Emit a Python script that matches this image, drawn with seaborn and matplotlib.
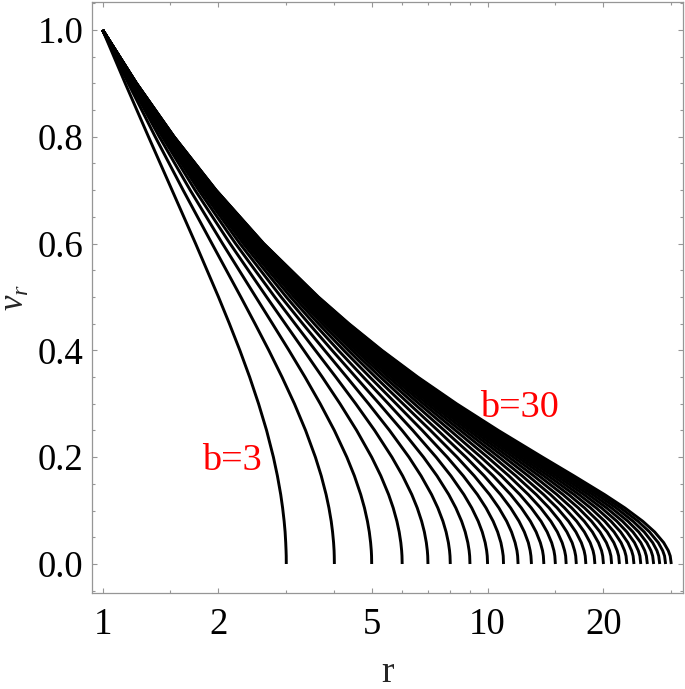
import matplotlib
matplotlib.use("Agg")
import matplotlib.pyplot as plt
import matplotlib.ticker as mticker
import pandas as pd
import seaborn as sns

# --- Data ---
# one curve per b; every curve starts at (r=1, v=1) and ends at (r=b, v=0)
B_VALUES = [3, 4, 5, 6, 7, 8, 9, 10, 11, 12, 13, 14, 15, 16, 17, 18, 19, 20,
            21, 22, 23, 24, 25, 26, 27, 28, 29, 30]
R_START = 1.0

# v_r levels at which the r position of each curve was read (top to bottom)
V_LEVELS = [1.0, 0.9, 0.8, 0.7, 0.6, 0.5, 0.45, 0.4, 0.35, 0.3, 0.25, 0.2,
            0.165, 0.13, 0.105, 0.08, 0.06, 0.04, 0.025, 0.015, 0.0]

# r where each curve (b = 3..30) crosses the given v_r level
R_V090 = [1.145, 1.166, 1.179, 1.188, 1.195, 1.199, 1.203, 1.206, 1.209, 1.211, 1.213, 1.214, 1.216, 1.217,
          1.218, 1.219, 1.22, 1.22, 1.221, 1.222, 1.222, 1.223, 1.223, 1.224, 1.224, 1.224, 1.225, 1.225]
R_V080 = [1.316, 1.37, 1.404, 1.429, 1.446, 1.46, 1.471, 1.479, 1.486, 1.493, 1.498, 1.502, 1.506, 1.509,
          1.512, 1.515, 1.518, 1.52, 1.522, 1.524, 1.525, 1.527, 1.528, 1.529, 1.531, 1.532, 1.533, 1.534]
R_V070 = [1.515, 1.619, 1.689, 1.739, 1.777, 1.806, 1.829, 1.848, 1.864, 1.878, 1.89, 1.9, 1.908, 1.916,
          1.923, 1.929, 1.935, 1.94, 1.944, 1.949, 1.952, 1.956, 1.959, 1.962, 1.965, 1.968, 1.97, 1.972]
R_V060 = [1.744, 1.923, 2.049, 2.143, 2.215, 2.273, 2.32, 2.358, 2.391, 2.419, 2.444, 2.465, 2.483, 2.5,
          2.515, 2.528, 2.54, 2.551, 2.561, 2.57, 2.578, 2.586, 2.593, 2.6, 2.606, 2.612, 2.617, 2.622]
R_V050 = [2.0, 2.286, 2.5, 2.667, 2.8, 2.909, 3.0, 3.077, 3.143, 3.2, 3.25, 3.294, 3.333, 3.368,
          3.4, 3.429, 3.455, 3.478, 3.5, 3.52, 3.538, 3.556, 3.571, 3.586, 3.6, 3.613, 3.625, 3.636]
R_V045 = [2.135, 2.488, 2.762, 2.981, 3.16, 3.309, 3.435, 3.543, 3.636, 3.718, 3.79, 3.854, 3.911, 3.963,
          4.009, 4.052, 4.09, 4.126, 4.158, 4.188, 4.216, 4.242, 4.266, 4.289, 4.31, 4.329, 4.348, 4.365]
R_V040 = [2.273, 2.703, 3.049, 3.333, 3.571, 3.774, 3.947, 4.098, 4.231, 4.348, 4.452, 4.545, 4.63, 4.706,
          4.775, 4.839, 4.897, 4.95, 5.0, 5.046, 5.088, 5.128, 5.165, 5.2, 5.233, 5.263, 5.292, 5.319]
R_V035 = [2.41, 2.925, 3.356, 3.721, 4.035, 4.307, 4.545, 4.756, 4.944, 5.112, 5.263, 5.4, 5.525, 5.639,
          5.743, 5.839, 5.928, 6.011, 6.087, 6.158, 6.225, 6.287, 6.345, 6.4, 6.452, 6.5, 6.546, 6.59]
R_V030 = [2.542, 3.15, 3.676, 4.138, 4.545, 4.908, 5.233, 5.525, 5.789, 6.03, 6.25, 6.452, 6.637, 6.809,
          6.967, 7.115, 7.252, 7.38, 7.5, 7.612, 7.718, 7.818, 7.911, 8.0, 8.084, 8.163, 8.239, 8.31]
R_V025 = [2.667, 3.368, 4.0, 4.571, 5.091, 5.565, 6.0, 6.4, 6.769, 7.111, 7.429, 7.724, 8.0, 8.258,
          8.5, 8.727, 8.941, 9.143, 9.333, 9.514, 9.684, 9.846, 10.0, 10.15, 10.29, 10.42, 10.55, 10.67]
R_V020 = [2.778, 3.571, 4.31, 5.0, 5.645, 6.25, 6.818, 7.353, 7.857, 8.333, 8.784, 9.211, 9.615, 10.0,
          10.37, 10.71, 11.05, 11.36, 11.67, 11.96, 12.23, 12.5, 12.76, 13.0, 13.24, 13.46, 13.68, 13.89]
R_V0165 = [2.845, 3.698, 4.509, 5.281, 6.017, 6.719, 7.39, 8.032, 8.646, 9.234, 9.799, 10.34, 10.86, 11.36,
           11.84, 12.3, 12.75, 13.18, 13.6, 14.0, 14.38, 14.76, 15.12, 15.47, 15.81, 16.14, 16.46, 16.76]
R_V013 = [2.902, 3.807, 4.683, 5.533, 6.356, 7.154, 7.928, 8.68, 9.41, 10.12, 10.81, 11.48, 12.13, 12.76,
          13.38, 13.98, 14.57, 15.14, 15.7, 16.24, 16.77, 17.28, 17.79, 18.28, 18.76, 19.23, 19.69, 20.13]
R_V0105 = [2.935, 3.872, 4.789, 5.687, 6.566, 7.427, 8.271, 9.097, 9.908, 10.7, 11.48, 12.24, 12.99, 13.73,
           14.45, 15.16, 15.85, 16.54, 17.21, 17.86, 18.51, 19.15, 19.77, 20.38, 20.98, 21.58, 22.16, 22.73]
R_V008 = [2.962, 3.925, 4.875, 5.814, 6.741, 7.657, 8.562, 9.455, 10.34, 11.21, 12.07, 12.92, 13.77, 14.6,
          15.42, 16.23, 17.04, 17.83, 18.62, 19.39, 20.16, 20.92, 21.67, 22.41, 23.15, 23.87, 24.59, 25.3]
R_V006 = [2.979, 3.957, 4.929, 5.894, 6.852, 7.803, 8.748, 9.686, 10.62, 11.54, 12.46, 13.37, 14.28, 15.18,
          16.07, 16.96, 17.84, 18.72, 19.59, 20.45, 21.31, 22.16, 23.01, 23.85, 24.69, 25.52, 26.34, 27.16]
R_V004 = [2.99, 3.981, 4.968, 5.952, 6.933, 7.911, 8.886, 9.858, 10.83, 11.79, 12.76, 13.71, 14.67, 15.62,
          16.58, 17.52, 18.47, 19.41, 20.35, 21.28, 22.22, 23.15, 24.08, 25.0, 25.92, 26.84, 27.76, 28.67]
R_V0025 = [2.996, 3.993, 4.988, 5.981, 6.974, 7.965, 8.955, 9.944, 10.93, 11.92, 12.9, 13.89, 14.87, 15.85,
           16.83, 17.81, 18.79, 19.77, 20.74, 21.71, 22.69, 23.66, 24.63, 25.6, 26.57, 27.54, 28.5, 29.47]
R_V0015 = [2.999, 3.997, 4.996, 5.993, 6.991, 7.987, 8.984, 9.98, 10.98, 11.97, 12.96, 13.96, 14.95, 15.95,
           16.94, 17.93, 18.92, 19.91, 20.91, 21.9, 22.89, 23.88, 24.87, 25.85, 26.84, 27.83, 28.82, 29.81]

X_MAJOR = [1, 2, 5, 10, 20]
X_MINOR = [1.5, 3, 4, 6, 7, 8, 9, 15, 30]
Y_MAJOR = [0.0, 0.2, 0.4, 0.6, 0.8, 1.0]

# annotations: (text, r, v_r at baseline)
LABELS = [("b=3", 2.164, 0.176), ("b=30", 12.07, 0.276)]


def build_frame():
    cols = [R_V090, R_V080, R_V070, R_V060, R_V050, R_V045, R_V040, R_V035,
            R_V030, R_V025, R_V020, R_V0165, R_V013, R_V0105, R_V008, R_V006,
            R_V004, R_V0025, R_V0015]
    rows = []
    for i, b in enumerate(B_VALUES):
        rs = [R_START] + [c[i] for c in cols] + [b]
        for r, v in zip(rs, V_LEVELS):
            rows.append({"b": b, "r": r, "v": v})
    return pd.DataFrame(rows)


def main():
    df = build_frame()

    sns.set_style("ticks")
    plt.rcParams["font.family"] = ["Liberation Serif", "DejaVu Serif"]
    plt.rcParams["mathtext.fontset"] = "custom"
    plt.rcParams["mathtext.it"] = "Liberation Serif:italic"
    plt.rcParams["mathtext.rm"] = "Liberation Serif"

    frame_gray = "#969696"

    fig = plt.figure(figsize=(6.85, 6.89), dpi=100)
    ax = fig.add_axes([92 / 685, 1 - 593 / 689, 591 / 685, 591 / 689])

    sns.lineplot(data=df, x="r", y="v", units="b", estimator=None, sort=False,
                 color="black", linewidth=2.1, legend=False, ax=ax,
                 solid_capstyle="butt")

    ax.set_xscale("log")
    ax.set_xlim(0.9386, 32.18)
    ax.set_ylim(-0.0543, 1.0524)

    ax.xaxis.set_major_locator(mticker.FixedLocator(X_MAJOR))
    ax.xaxis.set_major_formatter(mticker.FixedFormatter([str(x) for x in X_MAJOR]))
    ax.xaxis.set_minor_locator(mticker.FixedLocator(X_MINOR))
    ax.xaxis.set_minor_formatter(mticker.NullFormatter())
    ax.yaxis.set_major_locator(mticker.FixedLocator(Y_MAJOR))
    ax.yaxis.set_major_formatter(mticker.FormatStrFormatter("%.1f"))
    ax.yaxis.set_minor_locator(mticker.MultipleLocator(0.05))

    ax.tick_params(which="both", direction="in", top=True, right=True,
                   color=frame_gray, width=0.8, labelsize=26.5, labelcolor="black")
    ax.tick_params(which="major", length=3.6)
    ax.tick_params(which="minor", length=2.2)
    ax.tick_params(axis="x", which="major", pad=10.5)
    ax.tick_params(axis="y", which="major", pad=6)

    for sp in ax.spines.values():
        sp.set_color(frame_gray)
        sp.set_linewidth(0.9)

    ax.set_xlabel("r", fontsize=27)
    ax.xaxis.set_label_coords(0.5, -0.105)
    ax.set_ylabel(r"$v_r$", fontsize=25)
    ax.yaxis.set_label_coords(-0.102, 0.5)

    for text, x, y in LABELS:
        ax.text(x, y, text, color="red", fontsize=27.5, ha="center", va="baseline")

    fig.savefig("out.png", dpi=100)
    plt.close(fig)


if __name__ == "__main__":
    main()
